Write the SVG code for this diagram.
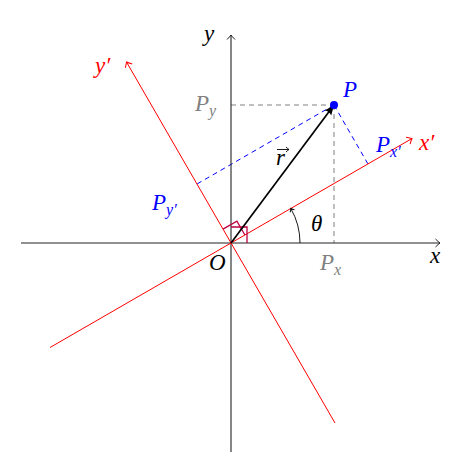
<svg xmlns="http://www.w3.org/2000/svg" width="474" height="475" viewBox="0 0 474 475">
<style>
.lbl text{font-style:italic;font-size:23px}
.sub{font-size:16px}
.gray{fill:#808080}.blue{fill:#0000ff}.red{fill:#ff0000}.blk{fill:#000}
.axis{stroke:#222;stroke-width:1.1;fill:none}
.raxis{stroke:#ff0000;stroke-width:1;fill:none}
.gdash{stroke:#808080;stroke-width:1;stroke-dasharray:5,4;fill:none}
.bdash{stroke:#0000ff;stroke-width:1;stroke-dasharray:5,4;fill:none}
</style>
<defs>
<marker id="to" markerUnits="userSpaceOnUse" markerWidth="12" markerHeight="12" viewBox="-6 -6 12 12" refX="0" refY="0" orient="auto">
<path d="M-4.5,-4 Q-1.5,-1 0,0 Q-1.5,1 -4.5,4" fill="none" stroke="#222" stroke-width="1"/>
</marker>
<marker id="tor" markerUnits="userSpaceOnUse" markerWidth="12" markerHeight="12" viewBox="-6 -6 12 12" refX="0" refY="0" orient="auto">
<path d="M-4.5,-4 Q-1.5,-1 0,0 Q-1.5,1 -4.5,4" fill="none" stroke="#ff0000" stroke-width="1"/>
</marker>
<marker id="latex" markerUnits="userSpaceOnUse" markerWidth="14" markerHeight="14" viewBox="-12 -7 14 14" refX="0" refY="0" orient="auto">
<path d="M0,0 L-10,-4 Q-8,0 -10,4 Z" fill="#000"/>
</marker>
<marker id="small" markerUnits="userSpaceOnUse" markerWidth="8" markerHeight="8" viewBox="-5 -4 8 8" refX="0" refY="0" orient="auto">
<path d="M-3,-2.5 Q-1,-0.5 0,0 Q-1,0.5 -3,2.5" fill="none" stroke="#000" stroke-width="0.9"/>
</marker>
</defs>

<g id="connectors">
<line class="gdash" x1="231" y1="105" x2="334" y2="105"/>
<line class="gdash" x1="334" y1="105" x2="334" y2="243"/>
<line class="bdash" x1="334" y1="105" x2="368" y2="164"/>
<line class="bdash" x1="334" y1="105" x2="197" y2="184"/>
</g>

<g id="x-axis"><line class="axis" x1="21" y1="243" x2="440" y2="243" marker-end="url(#to)"/></g>
<g id="y-axis"><line class="axis" x1="231" y1="452" x2="231" y2="35" marker-end="url(#to)"/></g>
<g id="xprime-axis"><line class="raxis" x1="50" y1="347.5" x2="412" y2="138.5" marker-end="url(#tor)"/></g>
<g id="yprime-axis"><line class="raxis" x1="335" y1="423" x2="126.5" y2="62" marker-end="url(#tor)"/></g>

<g id="right-angles" fill="none" stroke="#bf0040" stroke-width="1.3">
<path d="M231,227 L247,227 L247,243"/>
<path d="M223,229.1 L236.9,221.1 L244.9,235"/>
</g>

<g id="theta-arc"><path d="M300,243 A69,69 0 0 0 290.8,208.5" fill="none" stroke="#000" stroke-width="0.9" marker-end="url(#small)"/></g>

<g id="vector-r"><line x1="231" y1="243" x2="334" y2="105" stroke="#000" stroke-width="1.7" marker-end="url(#latex)"/></g>
<g id="point-P"><circle cx="334" cy="105" r="4" fill="#0000ff"/></g>

<g id="labels" class="lbl" font-family="'Liberation Serif', 'DejaVu Serif', serif">
<text class="blk" x="204" y="41">y</text>
<text class="blk" x="430" y="263">x</text>
<text class="blk" x="209" y="270">O</text>
<text class="blk" x="311" y="231">θ</text>
<text class="gray" x="320" y="270">P<tspan class="sub" dy="5">x</tspan></text>
<text class="gray" x="195" y="111">P<tspan class="sub" dy="5">y</tspan></text>
<text class="blue" x="343" y="97">P</text>
<text class="blue" x="376" y="152">P<tspan class="sub" dy="5">x′</tspan></text>
<text class="blue" x="152" y="210">P<tspan class="sub" dy="5">y′</tspan></text>
<text class="red" x="419" y="150">x′</text>
<text class="red" x="95" y="73">y′</text>
<g id="r-label">
<text class="blk" x="276" y="165">r</text>
<line x1="277" y1="149.5" x2="289" y2="149.5" stroke="#000" stroke-width="0.9" marker-end="url(#small)"/>
</g>
</g>
</svg>
